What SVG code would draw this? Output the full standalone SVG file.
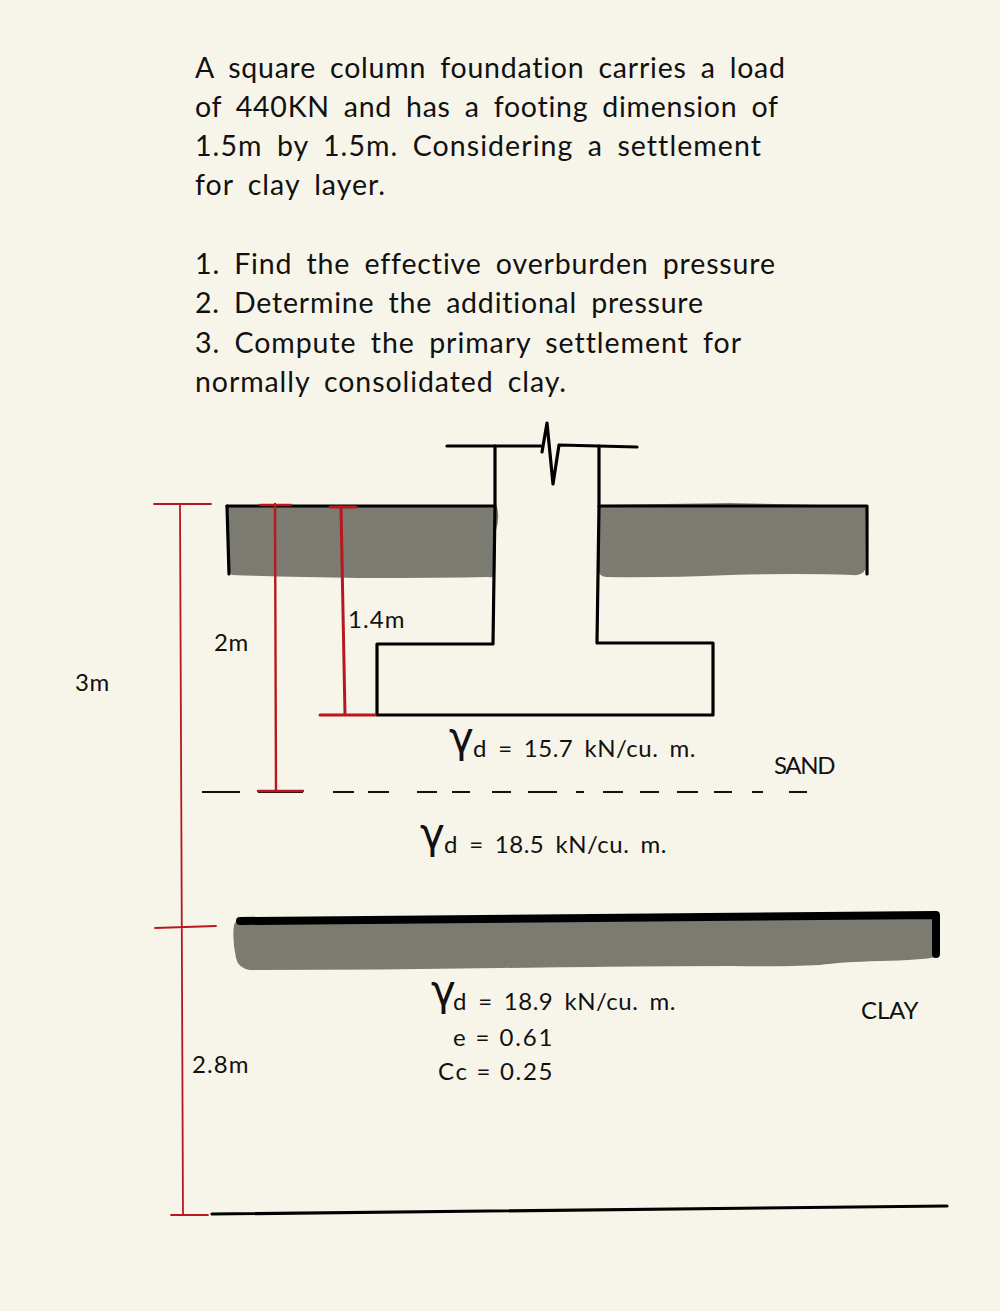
<svg xmlns="http://www.w3.org/2000/svg" width="1000" height="1311" viewBox="0 0 1000 1311">
<style>
text{font-family:"Lato","Noto Sans","Liberation Sans",sans-serif;fill:#111;font-variant-ligatures:none}
.p{font-size:28.5px;word-spacing:6px}
.l{font-size:24px;letter-spacing:.5px}
.w{word-spacing:4.6px}
.g{font-family:"DejaVu Sans","Liberation Serif",serif;font-size:42px;fill:#111}
.k{fill:none;stroke:#000;stroke-width:3.2;stroke-linecap:round;stroke-linejoin:round}
.r{fill:none;stroke:#b8181d;stroke-width:1.8;stroke-linecap:round}
.rt{fill:none;stroke:#b8181d;stroke-width:3;stroke-linecap:round}
.s{fill:#7b7b72}
</style>
<rect width="1000" height="1311" fill="#f7f5e9"/>
<g id="problem-text">
<text x="195" y="78" textLength="590" class="p">A square column foundation carries a load</text>
<text x="195" y="117" textLength="583" class="p">of 440KN and has a footing dimension of</text>
<text x="195" y="156" textLength="566" class="p">1.5m by 1.5m. Considering a settlement</text>
<text x="195" y="195" textLength="190" class="p">for clay layer.</text>
<text x="195" y="274" textLength="580" class="p">1. Find the effective overburden pressure</text>
<text x="195" y="313" textLength="508" class="p">2. Determine the additional pressure</text>
<text x="195" y="353" textLength="546" class="p">3. Compute the primary settlement for</text>
<text x="195" y="392" textLength="371" class="p">normally consolidated clay.</text>
</g>
<g id="soil-fills">
<path class="s" d="M228 507H497Q500 518 496 530L495 574Q494 578 488 577Q440 578 360 578Q290 577 232 575L229 572Z"/>
<path class="s" d="M599 505L730 503L866 506L865 570Q862 576 852 575Q800 573 730 575Q660 578 606 577Q599 576 598 570Z"/>
<path class="s" d="M238 918L936 916L936 957Q922 960 880 961Q840 962 820 965Q780 967 730 966Q650 966 500 968Q380 970 250 970Q238 968 236 958Q232 940 234 925Z"/>
</g>
<g id="foundation">
<path class="k" d="M447 446H541"/>
<path class="k" d="M542 452L547 423L553 484L559 445L637 447"/>
<path class="k" d="M227 506H495"/>
<path class="k" d="M227 506L229 574"/>
<path class="k" d="M495 446V506L493 644H377V715H713V643H597L599 506V446"/>
<path class="k" d="M599 506H867V574"/>
<path class="k" d="M212 1214L947 1206"/>
</g>
<g id="clay-top">
<path fill="none" stroke="#000" stroke-width="8" stroke-linecap="round" stroke-linejoin="round" d="M240 921L936 915V954"/>
</g>
<g id="water-table">
<path fill="none" stroke="#111" stroke-width="1.8" d="M202 792H240M258 792H303M333 792H354M368 792H389M417 792H437M452 792H470M492 792H511M528 792H557M576 792H584M603 792H623M640 792H659M677 792H698M714 792H732M752 792H763M789 792H807"/>
</g>
<g id="dimensions">
<path class="r" d="M154 504H211M180 504L183 1215M155 928L216 926M171 1215H208"/>
<path class="r" style="stroke-width:2.4" d="M275 504L276 791M260 505H291M258 791H303"/>
<path class="rt" d="M341 507L345 715M330 507H356M320 715H375"/>
</g>
<g id="labels">
<text x="214" y="651" class="l">2m</text>
<text x="348" y="628" class="l" textLength="57">1.4m</text>
<text x="75" y="691" class="l">3m</text>
<text x="774" y="774" class="l" textLength="62">SAND</text>
<text x="861" y="1019" class="l" textLength="58">CLAY</text>
<text x="192" y="1073" class="l" textLength="57">2.8m</text>
<text x="449" y="752" class="l w"><tspan class="g">γ</tspan><tspan x="473" y="757">d = 15.7 kN/cu. m.</tspan></text>
<text x="420" y="848" class="l w"><tspan class="g">γ</tspan><tspan x="444" y="853">d = 18.5 kN/cu. m.</tspan></text>
<text x="431" y="1005" class="l w"><tspan class="g">γ</tspan><tspan x="453" y="1010">d = 18.9 kN/cu. m.</tspan></text>
<text x="453" y="1046" class="l" textLength="100">e = 0.61</text>
<text x="438" y="1080" class="l" textLength="115">Cc = 0.25</text>
</g>
</svg>
